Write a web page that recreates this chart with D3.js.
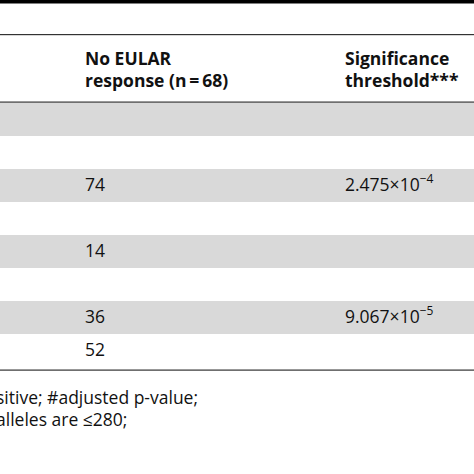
<!DOCTYPE html>
<html><head><meta charset="utf-8">
<script src="https://cdn.jsdelivr.net/npm/d3@7"></script>
<style>body{margin:0;background:#fff}svg{display:block}</style>
</head><body><svg id="c" width="474" height="474"></svg>
<script>
const headers = [["No EULAR","response (n\u2009=\u200968)"],["Significance","threshold***"]];
const col2 = ["", "", "74", "", "14", "", "36", "52"];
const col3 = ["", "", "2.475\u00d710|\u22124", "", "", "", "9.067\u00d710|\u22125", ""];
const footnotes = ["sitive; #adjusted p-value;", "alleles are \u2264280;"];
const svg = d3.select("#c");
const font = "'Open Sans', sans-serif";
svg.append("rect").attr("x",0).attr("y",0).attr("width",474).attr("height",3.5).attr("fill","#000");
svg.append("rect").attr("x",0).attr("y",34).attr("width",474).attr("height",1.2).attr("fill","#333");
svg.append("rect").attr("x",0).attr("y",101.5).attr("width",474).attr("height",1.2).attr("fill","#333");
const y = d3.scaleBand().domain(d3.range(col2.length)).range([103, 103+33*col2.length]);
col2.forEach((v,i)=>{
  if(i%2===0 && i<7) svg.append("rect").attr("x",0).attr("y",y(i)).attr("width",474).attr("height",y.bandwidth()).attr("fill","#d9d9d9");
});
svg.append("rect").attr("x",0).attr("y",369.5).attr("width",474).attr("height",1.2).attr("fill","#333");
const colX = [85, 345];
const fs = 17.5;
headers.forEach((h,j)=>h.forEach((t,k)=>svg.append("text").attr("x",colX[j]).attr("y",65+k*22)
  .attr("font-family",font).attr("font-weight","bold").attr("font-size",fs).attr("fill","#111").text(t)));
col2.forEach((v,i)=>{ if(v) svg.append("text").attr("x",colX[0]).attr("y",y(i)+22).attr("font-family",font).attr("font-size",fs).attr("fill","#111").text(v);});
col3.forEach((v,i)=>{ if(!v) return; const [a,b]=v.split("|");
  const t=svg.append("text").attr("x",colX[1]).attr("y",y(i)+22).attr("font-family",font).attr("font-size",fs).attr("fill","#111");
  t.append("tspan").text(a); t.append("tspan").attr("dy",-8).attr("font-size",12).text(b);});
footnotes.forEach((f,i)=>svg.append("text").attr("x",-4).attr("y",404+i*22).attr("font-family",font).attr("font-size",fs).attr("fill","#111").text(f));
</script></body></html>
